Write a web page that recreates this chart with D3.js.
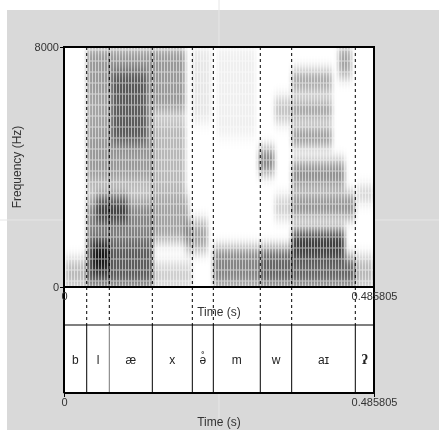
<!DOCTYPE html><html><head><meta charset="utf-8">
<script src="https://cdn.jsdelivr.net/npm/d3@7"></script>
<style>body{margin:0;background:#fff}</style></head><body><svg id="c" width="439" height="430"></svg>
<script>
const duration = 0.485805, fMax = 8000;
const boundaries = [0.0356,0.0710,0.1384,0.2011,0.2340,0.3076,0.3568,0.4565];
const segLabels = ["b","l","æ","x","ə̊","m","w","aɪ","ʔ"];
const freqTicks = [0, 8000];
const timeTicks = [0, 0.485805];
// energy regions: [t0, t1, f0, f1, darkness]
const bands = [
 [0.002,0.036,0,900,0.35],
 [0.036,0.139,0,1500,0.8],[0.045,0.07,500,1500,0.95],
 [0.036,0.139,1500,2800,0.6],[0.05,0.1,2200,3000,0.7],
 [0.036,0.139,2800,3600,0.3],[0.036,0.139,3600,5200,0.5],
 [0.036,0.139,5200,6500,0.45],[0.036,0.139,6500,8000,0.5],
 [0.075,0.13,4800,7200,0.55],
 [0.139,0.20,0,800,0.25],[0.139,0.195,1500,3000,0.45],[0.139,0.19,3000,5600,0.35],
 [0.139,0.19,5800,8000,0.5],
 [0.19,0.225,1200,2200,0.45],[0.20,0.23,5500,8000,0.12],
 [0.234,0.308,0,1300,0.6],[0.24,0.30,5000,8000,0.08],
 [0.308,0.357,0,1300,0.75],[0.305,0.33,3800,4600,0.6],
 [0.33,0.357,5500,6300,0.3],[0.33,0.357,2300,3000,0.25],
 [0.357,0.456,0,1000,0.75],[0.357,0.44,1000,1900,0.95],
 [0.357,0.456,2300,3100,0.55],[0.357,0.44,3300,4200,0.55],
 [0.357,0.42,4700,5300,0.55],[0.357,0.42,5600,6200,0.5],
 [0.357,0.42,6500,7200,0.45],[0.43,0.45,7000,8000,0.45],
 [0.456,0.485,0,1000,0.35],[0.46,0.485,2900,3300,0.3]
];
const svg = d3.select("#c");
const L=64,R=374,T=47,B=287,tierT=325,tierB=393;
svg.append("rect").attr("x",7).attr("y",10).attr("width",432).attr("height",420).attr("fill","#d9d9d9");
svg.append("line").attr("x1",219).attr("x2",219).attr("y1",0).attr("y2",430).attr("stroke","#e6e6e6");
svg.append("line").attr("x1",0).attr("x2",439).attr("y1",220).attr("y2",220).attr("stroke","#e6e6e6");
svg.append("rect").attr("x",L).attr("y",T).attr("width",R-L).attr("height",tierB-T).attr("fill","#fff");
const x=d3.scaleLinear().domain([0,duration]).range([L,R]);
const y=d3.scaleLinear().domain([0,fMax]).range([B,T]);
const defs=svg.append("defs");
defs.append("filter").attr("id","bl").attr("filterUnits","userSpaceOnUse").attr("x",0).attr("y",0).attr("width",439).attr("height",430)
 .append("feGaussianBlur").attr("stdDeviation","2 7");
defs.append("clipPath").attr("id","cp").append("rect").attr("x",L).attr("y",T).attr("width",R-L).attr("height",B-T);
const pat=defs.append("pattern").attr("id","st").attr("width",3).attr("height",11).attr("patternUnits","userSpaceOnUse");
pat.append("rect").attr("x",2).attr("width",1).attr("height",11).attr("fill","#fff").attr("opacity",0.55);
pat.append("rect").attr("x",0).attr("y",5).attr("width",2).attr("height",2).attr("fill","#fff").attr("opacity",0.3);
const g=svg.append("g").attr("clip-path","url(#cp)");
g.append("g").attr("filter","url(#bl)").selectAll("rect").data(bands).join("rect")
 .attr("x",d=>x(d[0])).attr("width",d=>x(d[1])-x(d[0]))
 .attr("y",d=>y(d[3])).attr("height",d=>y(d[2])-y(d[3]))
 .attr("fill","#000").attr("opacity",d=>d[4]*0.8);
g.append("rect").attr("x",L).attr("y",T).attr("width",R-L).attr("height",B-T).attr("fill","url(#st)");
svg.selectAll(".db").data(boundaries).join("line").attr("x1",d=>x(d)).attr("x2",d=>x(d))
 .attr("y1",T).attr("y2",tierT).attr("stroke","#000").attr("stroke-dasharray","3,3");
svg.append("rect").attr("x",L).attr("y",T).attr("width",R-L).attr("height",B-T).attr("fill","none").attr("stroke","#000").attr("stroke-width",2);
svg.append("rect").attr("x",L).attr("y",tierT).attr("width",R-L).attr("height",tierB-tierT).attr("fill","none").attr("stroke","#000");
svg.selectAll(".tb").data(boundaries).join("line").attr("x1",d=>x(d)).attr("x2",d=>x(d))
 .attr("y1",tierT).attr("y2",tierB).attr("stroke",(d,i)=>i==1?"#777":"#000");
const edges=[0,...boundaries,duration];
const font="Liberation Sans, Arial";
svg.selectAll(".lab").data(segLabels).join("text").attr("x",(d,i)=>(x(edges[i])+x(edges[i+1]))/2)
 .attr("y",(tierT+tierB)/2+5).attr("text-anchor","middle").attr("font-family",(d,i)=>i==8?"Liberation Serif":font).attr("font-size",(d,i)=>i==8?14:12)
 .attr("font-weight",(d,i)=>i==8?"bold":"normal").attr("fill","#222").text(d=>d);
svg.append("line").attr("x1",L).attr("x2",L).attr("y1",B).attr("y2",tierB).attr("stroke","#000").attr("stroke-width",2);
svg.append("line").attr("x1",R).attr("x2",R).attr("y1",B).attr("y2",tierB).attr("stroke","#000").attr("stroke-width",2);
svg.append("line").attr("x1",L).attr("x2",R).attr("y1",tierB).attr("y2",tierB).attr("stroke","#000").attr("stroke-width",2);
const ya=svg.append("g").attr("transform",`translate(${L},0)`).call(d3.axisLeft(y).tickValues(freqTicks).tickSize(4).tickFormat(d3.format("d")));
ya.select(".domain").remove();
ya.selectAll("text").attr("font-family",font).attr("font-size",11).attr("fill","#333").attr("dx","2");
svg.append("text").attr("transform","translate(21,167) rotate(-90)").attr("text-anchor","middle").attr("font-family",font).attr("font-size",12).attr("fill","#333").text("Frequency (Hz)");
[[B,316],[tierB,426]].forEach(([yy,ly])=>{
 const a=svg.append("g").attr("transform",`translate(0,${yy})`).call(d3.axisBottom(x).tickValues(timeTicks).tickSize(4).tickFormat(d=>d===0?"0":"0.485805"));
 a.select(".domain").remove();
 a.selectAll("text").attr("font-family",font).attr("font-size",11).attr("fill","#333").attr("dy","0.5em");
 svg.append("text").attr("x",(L+R)/2).attr("y",ly).attr("text-anchor","middle").attr("font-family",font).attr("font-size",12).attr("fill","#333").text("Time (s)");
});
</script></body></html>
